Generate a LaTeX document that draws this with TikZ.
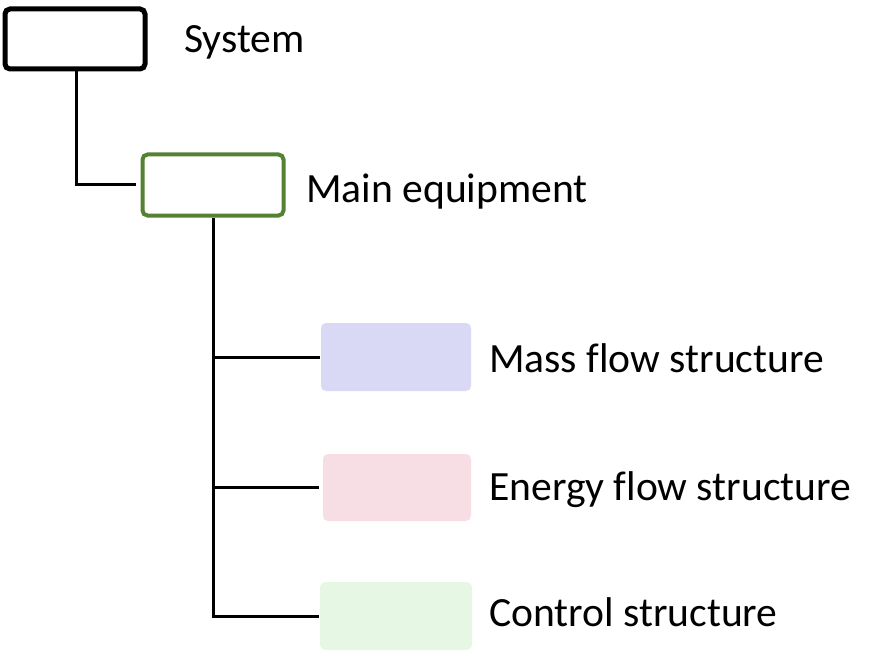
\documentclass[tikz,border=0pt]{standalone}
\usepackage{fontspec}
\setmainfont{Carlito}[Ligatures=CommonOff]
\usetikzlibrary{positioning}
\definecolor{eqgreen}{HTML}{548235}
\definecolor{massfill}{HTML}{D9D9F6}
\definecolor{energyfill}{HTML}{F6DEE4}
\definecolor{ctrlfill}{HTML}{E6F7E4}
\tikzset{box/.style={rectangle,rounded corners=5pt,inner sep=0pt},
  lbl/.style={anchor=base west,inner sep=0pt,font=\fontsize{41.6}{50}\selectfont},
  conn/.style={line width=3pt}}

\begin{document}
\begin{tikzpicture}[x=1pt,y=-1pt]
            \useasboundingbox (0,0) rectangle (876,666);
            \node [box,draw=black,line width=5pt,minimum width=140pt,minimum height=60pt] (sys) at (75,39) {};
            \node [box,draw=eqgreen,line width=4pt,minimum width=141pt,minimum height=61pt] (main) at (213,185) {};
            \node [box,fill=massfill,minimum width=150pt,minimum height=68pt] (mass) at (396,357) {};
            \node [box,fill=energyfill,minimum width=148pt,minimum height=67pt] (energy) at (397,487.5) {};
            \node [box,fill=ctrlfill,minimum width=152pt,minimum height=68pt] (ctrl) at (396,616) {};
            \node [lbl] (syslbl) at (184,53) {System};
            \node [lbl] (mainlbl) at (306,203) {Main equipment};
            \node [lbl] (masslbl) at (489,372) {Mass flow structure};
            \node [lbl] (energylbl) at (489,500) {Energy flow structure};
            \node [lbl] (ctrllbl) at (489,626) {Control structure};
            \coordinate (sysend) at ([xshift=-5pt]main.west);
            \draw[conn] ([xshift=1pt]sys.south) |- (sysend);
            \draw[conn] (main.south) |- ([xshift=-1pt]ctrl.west);
            \draw[conn] (main.south |- mass.west) -- ([xshift=-1pt]mass.west);
            \draw[conn] (main.south |- energy.west) -- ([xshift=-4pt]energy.west);
        \end{tikzpicture}
\end{document}
